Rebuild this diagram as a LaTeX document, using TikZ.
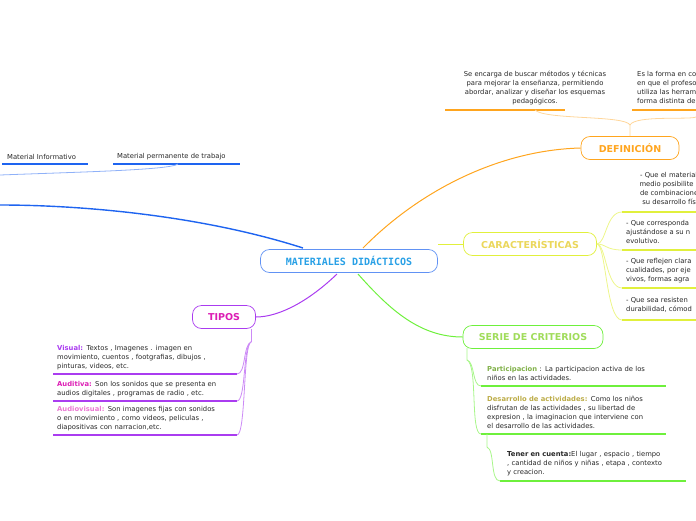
\documentclass[tikz,border=0pt]{standalone}
\usepackage{fontspec}
\setmainfont{DejaVu Sans}
\newfontfamily\monof{DejaVu Sans Mono}
\definecolor{cblue}{RGB}{30,100,240}
\definecolor{ctitle}{RGB}{40,160,230}
\definecolor{corange}{RGB}{255,165,30}
\definecolor{cyel}{RGB}{225,240,60}
\definecolor{cyeltxt}{RGB}{235,215,90}
\definecolor{cgreen}{RGB}{110,240,60}
\definecolor{cgreentxt}{RGB}{160,220,90}
\definecolor{cpurple}{RGB}{170,60,240}
\definecolor{cmag}{RGB}{220,30,180}
\definecolor{ctxt}{RGB}{40,40,40}
\begin{document}
\begin{tikzpicture}[x=1pt,y=-1pt,
  topic/.style={draw,rounded corners=9pt,line width=0.7pt,minimum height=23pt,font=\bfseries\fontsize{9.5}{10}\selectfont,fill=white},
  txt/.style={font=\fontsize{6.8}{9}\selectfont,text=ctxt,inner sep=0pt,anchor=north west,align=left},
  txtc/.style={txt,align=center,anchor=north},
  ul/.style={line width=1.1pt}]
\useasboundingbox (0,0) rectangle (696,520);
\clip (0,0) rectangle (696,520);
% nodes
\node[topic,draw=cblue!70,text=ctitle,minimum width=177pt,font=\monof\bfseries\fontsize{10}{10}\selectfont] (c) at (349,261) {MATERIALES DIDÁCTICOS};
\node[topic,draw=corange,text=corange,minimum width=98pt] (d) at (630,148) {DEFINICIÓN};
\node[topic,draw=cyel,text=cyeltxt,minimum width=133pt] (k) at (530,244) {CARACTERÍSTICAS};
\node[topic,draw=cgreen,text=cgreentxt,minimum width=140pt] (s) at (533,337) {SERIE DE CRITERIOS};
\node[topic,draw=cpurple,text=cmag,minimum width=63pt] (t) at (224,317) {TIPOS};
% main connectors
\coordinate (lb) at (0,205);
\draw[corange,line width=1pt] (363,248) .. controls (420,190) and (500,150) .. (d.west);
\draw[cyel,line width=1pt] (c.east|-0,244) -- (k.west);
\draw[cgreen,line width=1pt] (358,274) .. controls (390,310) and (420,337) .. (s.west);
\draw[cpurple,line width=1pt] (337,274) .. controls (310,300) and (280,317) .. (t.east);
\draw[cblue,line width=1.4pt] (303,248) .. controls (200,215) and (80,205) .. (lb);
% blue top-left
\coordinate (b1) at (2,164); \coordinate (b2) at (88,164);
\coordinate (b3) at (113,164); \coordinate (b4) at (240,164);
\coordinate (bl) at (0,175);
\draw[cblue,ul] (b1) -- (b2); \draw[cblue,ul] (b3) -- (b4);
\draw[cblue!50,line width=0.8pt] (bl) .. controls (80,172) and (170,170) .. (178,164);
\node[txt,anchor=south west] (mi) at (7,160) {Material Informativo};
\node[txt,anchor=south west] (mp) at (117,160) {Material permanente de trabajo};
% definicion
\node[txtc] (d1) at (535,71) {Se encarga de buscar métodos y técnicas\\para mejorar la enseñanza, permitiendo\\abordar, analizar y diseñar los esquemas\\pedagógicos.};
\node[txt] (d2) at (637,71) {Es la forma en como\\en que el profesor\\utiliza las herramientas\\forma distinta de};
\draw[corange,ul] (445,110) -- (565,110);
\draw[corange,ul] (632,110) -- (696,110);
\draw[corange!45,line width=0.8pt] (d.north) -- (630,125) .. controls (625,115) and (545,120) .. (535,110);
\draw[corange!45,line width=0.8pt] (630,125) .. controls (635,115) and (690,120) .. (696,117);
% caracteristicas
\node[txtc] (k1) at (672,172) {- Que el material d\\medio posibilite qu\\de combinaciones,\\su desarrollo físic};
\node[txt] (k2) at (626,220) {- Que corresponda\\ajustándose a su n\\evolutivo.};
\node[txt] (k3) at (626,258) {- Que reflejen clara\\cualidades, por eje\\vivos, formas agra};
\node[txt] (k4) at (626,297) {- Que sea resisten\\durabilidad, cómod};
\foreach \y in {212,250,288,320}{
  \draw[cyel,ul] (622,\y) -- (696,\y);
  \draw[cyel!60,line width=0.8pt] (k.east) .. controls (606,244) and (606,\y) .. (622,\y);}
% serie
\node[txt,text width=185pt] (s1) at (487,366) {\textcolor{cgreentxt!80!black}{\bfseries Participacion} : La participacion activa de los\\niños en las actividades.};
\node[txt,text width=185pt] (s2) at (487,396) {\textcolor{cyeltxt!80!black}{\bfseries Desarrollo de actividades:} Como los niños\\disfrutan de las actividades , su libertad de\\expresion , la imaginacion que interviene con\\el desarrollo de las actividades.};
\node[txt,text width=185pt] (s3) at (507,451) {\textbf{Tener en cuenta:}El lugar , espacio , tiempo\\, cantidad de niños y niñas , etapa , contexto\\y creacion.};
\draw[cgreen,ul] (481,386) -- (666,386);
\draw[cgreen,ul] (481,434) -- (666,434);
\draw[cgreen,ul] (500,481) -- (686,481);
\draw[cgreen!60,line width=0.8pt] (467,348) -- (467,360) .. controls (475,362) and (472,386) .. (481,386);
\draw[cgreen!60,line width=0.8pt] (467,360) .. controls (478,365) and (470,434) .. (481,434);
\draw[cgreen!60,line width=0.8pt] (487,434) -- (487,447) .. controls (495,450) and (490,481) .. (500,481);
% tipos
\node[txt,text width=185pt] (t1) at (57,345) {\textcolor{cpurple}{\bfseries Visual:} Textos , Imagenes . imagen en\\movimiento, cuentos , footgrafias, dibujos ,\\pinturas, videos, etc.};
\node[txt,text width=185pt] (t2) at (57,381) {\textcolor{cmag}{\bfseries Auditiva:} Son los sonidos que se presenta en\\audios digitales , programas de radio , etc.};
\node[txt,text width=185pt] (t3) at (57,406) {\textcolor{cmag!60}{\bfseries Audiovisual:} Son imagenes fijas con sonidos\\o en movimiento , como videos, peliculas ,\\diapositivas con narracion,etc.};
\foreach \y in {374,401,435}{
  \draw[cpurple,ul] (53,\y) -- (237,\y);
  \draw[cpurple!60,line width=0.8pt] (251,342) .. controls (243,345) and (246,\y) .. (237,\y);}
\draw[cpurple!60,line width=0.8pt] (251,329) -- (251,342);
\end{tikzpicture}
\end{document}
